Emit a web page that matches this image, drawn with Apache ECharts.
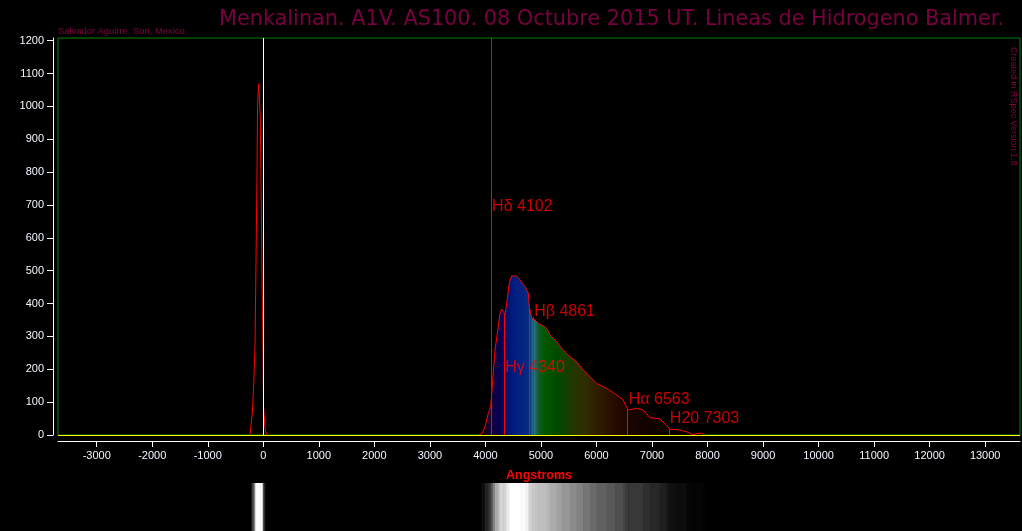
<!DOCTYPE html>
<html>
<head>
<meta charset="utf-8">
<script src="https://cdn.jsdelivr.net/npm/echarts@6/dist/echarts.min.js"></script>
<style>
html,body{margin:0;padding:0;background:#000;}
#chart{width:1022px;height:531px;}
</style>
</head>
<body>
<div id="chart"></div>
<script>
// ---- data ----
const titleText = 'Menkalinan. A1V. AS100. 08 Octubre 2015 UT. Lineas de Hidrogeno Balmer.';
const authorText = 'Salvador Aguirre. Son, Mexico.';
const creditText = 'Created in RSpec Version 1.8';
const xAxisName = 'Angstroms';

const xTicks = [-3000,-2000,-1000,0,1000,2000,3000,4000,5000,6000,7000,8000,9000,10000,11000,12000,13000];
const yTicks = [0,100,200,300,400,500,600,700,800,900,1000,1100,1200];

// zero-order image
const zeroWave = [-240,-221,-198,-171,-149,-131,-113,-103,-85,-72,-54,-41,-23,-5,5,31,54,70];
const zeroFlux = [0,3,67,158,277,533,801,1002,1069,1033,962,771,481,250,85,21,3,0];

// first-order spectrum
const mainWave = [3880,3934,3993,4052,4095,4131,4173,4232,4263,4293,4322,4353,4383,4430,4473,4563,4622,4712,4772,4790,4815,4838,4892,4952,5013,5103,5162,5283,5373,5522,5642,5761,5881,6002,6182,6331,6480,6520,6570,6601,6721,6840,6960,7140,7261,7320,7441,7620,7739,7806,7896,7950];
const mainFlux = [0,3,25,66,86,168,259,330,371,383,376,366,401,462,484,484,472,452,432,391,371,355,350,340,335,325,305,284,264,238,223,198,178,157,142,126,107,92,76,76,81,76,53,49,30,17,17,10,0,5,5,0];

// spectral colour of the fill, by wavelength
const fillWave  = [3880,3960,4100,4250,4350,4500,4760,4810,4860,4950,5050,5300,5550,5800,6100,6400,6600,7000,7950];
const fillColor = ['#000000','#0a0018','#160038','#08004e','#000e68','#001c80','#062882','#103878','#2a7890','#145c30','#005800','#004a00','#203800','#302c00','#2c1800','#240800','#1a0400','#100200','#000000'];

// line identifications
const lineNames = ['Hδ 4102','Hγ 4340','Hβ 4861','Hα 6563','H20 7303'];
const lineWave  = [4102,4340,4861,6563,7303];
const labelY    = [694,206,376,107,49];
const lineTop   = [730,370,360,76,17];
const extraWave = [4790];
const extraTop  = [391];

const xMin = -3697, xMax = 13627, yMin = 0, yMax = 1208;
const font = 'Liberation Sans, Arial, sans-serif';

// ---- build ----
const zeroData = zeroWave.map((w,i)=>[w, zeroFlux[i]]);
const mainData = mainWave.map((w,i)=>[w, mainFlux[i]]);
const w0 = mainWave[0], w1 = mainWave[mainWave.length-1];
const stops = fillWave.map((w,i)=>({offset: Math.min(1, Math.max(0, (w-w0)/(w1-w0))), color: fillColor[i]}));

function segs(wv, fx){
  const out = [];
  for (let i=0;i<wv.length-1;i++){
    if (fx[i] + fx[i+1] > 0) out.push([wv[i], wv[i+1], (fx[i]+fx[i+1])/2]);
  }
  return out;
}
const stripData = segs(zeroWave, zeroFlux).concat(segs(mainWave, mainFlux));

const markerLines = [];
lineWave.forEach((w,i)=>markerLines.push([{coord:[w,0]},{coord:[w,lineTop[i]]}]));
extraWave.forEach((w,i)=>markerLines.push([{coord:[w,0]},{coord:[w,extraTop[i]]}]));

const plain = v => String(v);

const chart = echarts.init(document.getElementById('chart'), null, {renderer:'canvas'});
chart.setOption({
  backgroundColor: '#000',
  animation: false,
  title: {
    text: titleText, left: 214, top: 4,
    textStyle: {color:'#7a0040', fontSize:20.8, fontWeight:'normal', fontFamily:'DejaVu Sans, sans-serif'}
  },
  graphic: [
    {type:'text', x:58, y:27, style:{text:authorText, fill:'#800040', font:'9.4px '+font}},
    {type:'text', x:1013, y:47, rotation:-Math.PI/2,
     style:{text:creditText, fill:'#800040', font:'9px '+font, textAlign:'left', textVerticalAlign:'middle'}}
  ],
  grid: [
    {left:58, right:2, top:38, bottom:96, show:true, borderColor:'#008000', borderWidth:1, backgroundColor:'#000'},
    {left:58, right:2, top:483, bottom:0, show:false}
  ],
  xAxis: [
    {type:'value', gridIndex:0, min:xMin, max:xMax, position:'bottom', offset:6,
     name:xAxisName, nameLocation:'middle', nameGap:28,
     nameTextStyle:{color:'#ff0000', fontWeight:'bold', fontSize:12.5, fontFamily:font},
     axisLine:{show:true, onZero:false, lineStyle:{color:'#ffffff', width:1}},
     axisTick:{show:true, length:6, lineStyle:{color:'#ffffff'}, customValues:xTicks},
     axisLabel:{color:'#f2f6ff', fontSize:11, fontFamily:font, margin:9, customValues:xTicks, formatter:plain},
     splitLine:{show:false}},
    {type:'value', gridIndex:1, min:xMin, max:xMax, show:false}
  ],
  yAxis: [
    {type:'value', gridIndex:0, min:yMin, max:yMax, position:'left', offset:5,
     axisLine:{show:true, onZero:false, lineStyle:{color:'#ffffff', width:1}},
     axisTick:{show:true, length:6, lineStyle:{color:'#ffffff'}, customValues:yTicks},
     axisLabel:{color:'#f2f6ff', fontSize:11, fontFamily:font, margin:9, customValues:yTicks, formatter:plain},
     splitLine:{show:false}},
    {type:'value', gridIndex:1, min:0, max:1, show:false}
  ],
  series: [
    {
      type:'line', name:'spectrum', data: mainData, xAxisIndex:0, yAxisIndex:0,
      showSymbol:false, symbol:'none', z:3,
      lineStyle:{color:'#ff0000', width:1},
      areaStyle:{opacity:1, color: new echarts.graphic.LinearGradient(0,0,1,0, stops)}
    },
    {
      type:'line', name:'zero', data: zeroData, xAxisIndex:0, yAxisIndex:0,
      showSymbol:false, symbol:'none', z:3,
      lineStyle:{color:'#ff0000', width:1}
    },
    {
      type:'line', name:'refs', data:[], xAxisIndex:0, yAxisIndex:0, z:2,
      markLine:{
        silent:true, symbol:'none', animation:false, label:{show:false},
        data:[
          {xAxis:0, lineStyle:{color:'#ffffff', width:1, type:'solid'}},
          {xAxis:lineWave[0], lineStyle:{color:'#008000', width:1, type:'solid'}}
        ]
      }
    },
    {
      type:'line', name:'ids', data:[], xAxisIndex:0, yAxisIndex:0, z:4,
      markLine:{
        silent:true, symbol:'none', animation:false, label:{show:false},
        lineStyle:{color:'#ff0000', width:1, type:'solid'},
        data: markerLines
      }
    },
    {
      type:'line', name:'base', data:[], xAxisIndex:0, yAxisIndex:0, z:5,
      markLine:{
        silent:true, symbol:'none', animation:false, label:{show:false},
        data:[{yAxis:0, lineStyle:{color:'#ffff00', width:1, type:'solid'}}]
      }
    },
    {
      type:'scatter', name:'labels', xAxisIndex:0, yAxisIndex:0, z:6,
      symbolSize:0,
      data: lineNames.map((n,i)=>({value:[lineWave[i], labelY[i]], name:n})),
      label:{show:true, position:'right', distance:1, formatter:p=>p.name,
             color:'#ff0000', fontSize:16, fontFamily:font}
    },
    {
      type:'custom', name:'strip', coordinateSystem:'cartesian2d', xAxisIndex:1, yAxisIndex:1,
      data: stripData,
      encode:{x:[0,1], y:2},
      renderItem: function(params, api){
        const a = api.coord([api.value(0), 0]);
        const b = api.coord([api.value(1), 1]);
        const g = Math.round(255*Math.pow(Math.min(1, api.value(2)/470), 0.85));
        return {type:'rect', shape:{x:a[0], y:b[1], width:b[0]-a[0]+0.6, height:a[1]-b[1]},
                style:{fill:'rgb('+g+','+g+','+g+')'}};
      }
    }
  ]
});
</script>
</body>
</html>
